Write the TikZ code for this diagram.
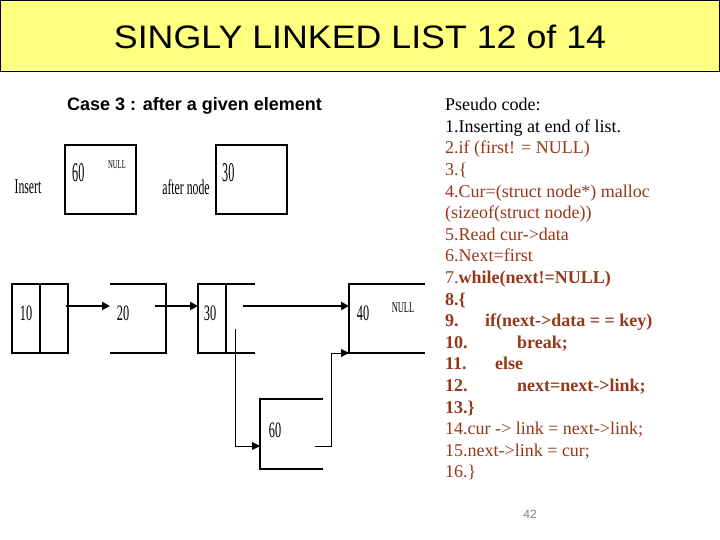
\documentclass[tikz,border=0pt]{standalone}
\usepackage{fontspec}
\setmainfont{Liberation Serif}
\setsansfont{Liberation Sans}
\newfontfamily\titlefont[FakeStretch=1.1]{Liberation Sans}
\newfontfamily\narrowserif[FakeStretch=0.56]{Liberation Serif}
\newfontfamily\tallserif[FakeStretch=0.45]{Liberation Serif}
\usetikzlibrary{arrows.meta}
\definecolor{slideyellow}{RGB}{255,255,128}
\definecolor{codebrown}{RGB}{150,55,25}

\begin{document}
\begin{tikzpicture}[x=1pt,y=-1pt,>={Triangle[length=8pt,width=8pt]},
  every node/.style={inner sep=0pt},
  digit/.style={font=\narrowserif\fontsize{22}{22}\selectfont},
  codeline/.style={anchor=base west,font=\fontsize{18}{18}\selectfont},
  box/.style={line width=1.3pt},
  link/.style={line width=2pt,->},
  newlink/.style={line width=1pt,->}]
\useasboundingbox (0,0) rectangle (720,540);
\draw[fill=slideyellow] (0.5,0.5) rectangle (719.5,71);
\node[font=\titlefont\fontsize{32.5}{32.5}\selectfont] (title) at (360,37) {SINGLY LINKED LIST 12 of 14};
\node[anchor=base west,font=\sffamily\bfseries\fontsize{18}{18}\selectfont] (case) at (67,111) {Case 3 : after a given element};

\node[font=\narrowserif\fontsize{21}{21}\selectfont] (insert) at (28,187) {Insert};
\draw[box] (65,145) rectangle (136,214);
\node[font=\tallserif\fontsize{27}{27}\selectfont,anchor=west] (new60) at (72,173) {60};
\node[font=\narrowserif\fontsize{12}{12}\selectfont] (newnull) at (117,165) {NULL};
\node[font=\narrowserif\fontsize{21}{21}\selectfont] (after) at (186,187) {after node};
\draw[box] (216,145) rectangle (287,214);
\node[font=\tallserif\fontsize{27}{27}\selectfont,anchor=west] (key30) at (222,173) {30};

\draw[box] (12,284) rectangle (68,353) (40,284) -- (40,353);
\draw[box] (110,284) -- (166,284) -- (166,353) -- (110,353);
\draw[box] (255,284) -- (198,284) -- (198,353) -- (255,353) (226,284) -- (226,353);
\draw[box] (425,284) -- (349,284) -- (349,353) -- (425,353);
\draw[box] (323,399) -- (260,399) -- (260,469) -- (323,469);
\node[digit] (d10) at (26,313) {10};
\node[digit] (d20) at (123,313) {20};
\node[digit] (d30) at (210,313) {30};
\node[digit] (d40) at (363,313) {40};
\node[digit] (d60) at (275,430) {60};
\node[font=\narrowserif\fontsize{15}{15}\selectfont] (null40) at (403,308) {NULL};

\coordinate (ptr10) at (66,306);
\coordinate (in20) at (110,306);
\coordinate (ptr20) at (155,306);
\coordinate (in30) at (198,306);
\coordinate (ptr30) at (243,306);
\coordinate (in40) at (349,306);
\coordinate (down30) at (235,329);
\coordinate (in60) at (260,446);
\coordinate (ptr60) at (315,446);
\coordinate (under40) at (349,353);
\draw[link] (ptr10) -- (in20);
\draw[link] (ptr20) -- (in30);
\draw[link] (ptr30) -- (in40);
\draw[newlink] (down30) |- (in60);
\draw[newlink] (ptr60) -- ++(16,0) |- (under40);

\node[codeline] (c0) at (445,110.7) {Pseudo code:};
\node[codeline] (c1) at (445,132.3) {1.Inserting at end of list.};
\foreach \k/\txt in {2/{2.if (first! = NULL)}, 3/{3.\{}, 4/{4.Cur=(struct node*) malloc},
    5/{(sizeof(struct node))}, 6/{5.Read cur->data}, 7/{6.Next=first},
    8/{7.\textbf{while(next!=NULL)}}, 9/{\textbf{8.\{}},
    10/{\textbf{\makebox[40pt][l]{9.}if(next->data = = key)}},
    11/{\textbf{\makebox[72pt][l]{10.}break;}},
    12/{\textbf{\makebox[50pt][l]{11.}else}},
    13/{\textbf{\makebox[72pt][l]{12.}next=next->link;}},
    14/{\textbf{13.\}}}, 15/{14.cur -> link = next->link;},
    16/{15.next->link = cur;}, 17/{16.\}}}
  \node[codeline,text=codebrown] (c\k) at (445,{110.7+21.6*\k}) {\txt};

\node[font=\sffamily\fontsize{12}{12}\selectfont,text=gray] (pageno) at (530,514) {42};
\end{tikzpicture}
\end{document}
